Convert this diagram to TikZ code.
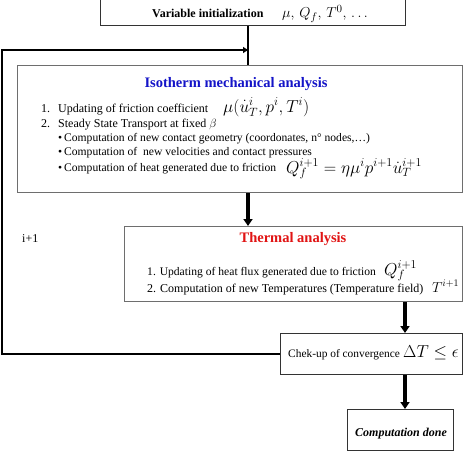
\documentclass[tikz,border=0pt]{standalone}
\usepackage{fontspec}
\setmainfont{Liberation Serif}
\usetikzlibrary{arrows.meta}
\definecolor{boxgray}{RGB}{110,110,110}
\definecolor{titleblue}{RGB}{20,20,200}
\definecolor{titlered}{RGB}{225,20,20}
\begin{document}
\begin{tikzpicture}[x=1pt,y=-1pt,
  box/.style={draw=boxgray,line width=1.2pt,fill=white,anchor=north west,inner sep=0pt},
  txt/.style={anchor=base west,inner sep=0pt,font=\fontsize{12}{14}\selectfont},
  btxt/.style={anchor=base west,inner sep=0pt,font=\fontsize{11.6}{14}\selectfont},
  mth/.style={anchor=base west,inner sep=0pt,font=\fontsize{17}{19}\selectfont},
  ttl/.style={anchor=base,inner sep=0pt,font=\fontsize{14.5}{17}\selectfont\bfseries},
  flow/.style={line width=3.5pt,-{Triangle[length=7pt,width=9pt]}},
  link/.style={line width=2.5pt},
  back/.style={line width=2.5pt,-{Triangle[length=5pt,width=6pt]}}]
\useasboundingbox (0,0) rectangle (474,452);
% boxes
\node[box,draw=black!80,minimum width=305pt,minimum height=32pt] (init) at (100,-7) {};
\node[box,minimum width=445pt,minimum height=127pt] (mech) at (17,65) {};
\node[box,minimum width=338pt,minimum height=75pt] (therm) at (124,226) {};
\node[box,draw=black!80,minimum width=182pt,minimum height=41pt] (conv) at (280,333) {};
\node[box,draw=black!80,minimum width=106pt,minimum height=41pt] (done) at (347,409) {};
% box 1 text
\node[txt,font=\fontsize{12}{14}\selectfont\bfseries] (t1) at (152,18) {Variable initialization};
\node[mth,font=\fontsize{15}{17}\selectfont] (m1) at (282,18) {$\mu,\,Q_f,\,T^0,\,\ldots$};
% box 2 text
\node[ttl,text=titleblue] (t2) at (236,88) {Isotherm mechanical analysis};
\node[txt] (l21) at (41,112) {1.\hspace{8pt}Updating of friction coefficient};
\node[mth] (m21) at (223,112) {$\mu(\dot u_T^i,p^i,T^i)$};
\node[txt] (l22) at (41,127) {2.\hspace{8pt}Steady State Transport at fixed $\beta$};
\node[btxt] (l23) at (58,141) {\textbullet\,Computation of new contact geometry (coordonates, n° nodes,\ldots)};
\node[btxt] (l24) at (58,155) {\textbullet\,Computation of\ \ new velocities and contact pressures};
\node[btxt] (l25) at (58,171) {\textbullet\,Computation of heat generated due to friction};
\node[mth] (m25) at (286,173) {$Q_f^{i+1}=\eta\mu^ip^{i+1}\dot u_T^{i+1}$};
% box 3 text
\node[ttl,text=titlered] (t3) at (293,242) {Thermal analysis};
\node[btxt] (l31) at (147,275) {1. Updating of heat flux generated due to friction};
\node[mth] (m31) at (384,275) {$Q_f^{i+1}$};
\node[txt] (l32) at (147,292) {2. Computation of new Temperatures (Temperature field)};
\node[mth,font=\fontsize{14}{16}\selectfont] (m32) at (432,292) {$T^{i+1}$};
% box 4 text
\node[txt,font=\fontsize{11.4}{14}\selectfont] (t4) at (288,357) {Chek-up of convergence};
\node[mth] (m4) at (403,357) {$\Delta T\le\epsilon$};
% box 5 text
\node[txt,font=\fontsize{12}{14}\selectfont\bfseries\itshape] (t5) at (355,436) {Computation done};
% label
\node[txt] (lbl) at (22,242) {i+1};
% connectors
\coordinate (cm) at (248,0);
\coordinate (cr) at (405,0);
\coordinate (cl) at (2,0);
\draw[link] (init.south -| cm) -- (mech.north -| cm);
\draw[flow] (mech.south -| cm) -- (therm.north -| cm);
\draw[flow] (therm.south -| cr) -- (conv.north -| cr);
\draw[flow] (conv.south -| cr) -- (done.north -| cr);
\coordinate (bk) at (cm |- 0,50);
\draw[back] (conv.west) -- (conv.west -| cl) -- (cl |- bk) -- (bk);
\end{tikzpicture}
\end{document}
